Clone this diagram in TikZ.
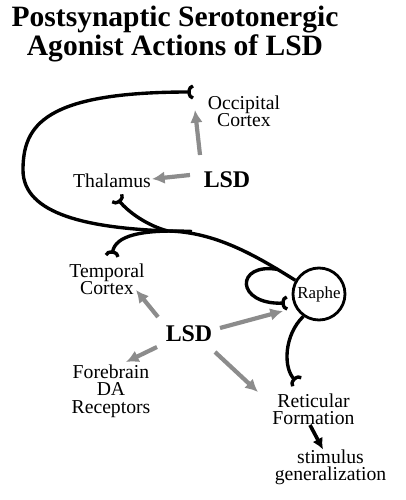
\documentclass[tikz,border=0pt]{standalone}
\usepackage{fontspec}
\setmainfont{Liberation Serif}
\usepackage{tikz}
\usetikzlibrary{arrows.meta,calc,positioning}
\definecolor{agonist}{gray}{0.55}
\tikzset{%
	heading/.style = {font=\fontsize{21}{17}\selectfont\bfseries, align=center, inner sep=0pt},
	region/.style  = {font=\fontsize{14}{12.4}\selectfont, align=center, inner sep=0pt},
	drug/.style    = {font=\fontsize{17}{17}\selectfont\bfseries, inner sep=0pt},
	nucleus/.style = {draw, circle, line width=2pt, minimum size=1.3cm, inner sep=0pt, font=\fontsize{12}{12}\selectfont},
	axon/.style    = {line width=2.4pt, -{Arc Barb[reversed,width=11pt,length=4pt]}},
	action/.style  = {line width=3pt, color=agonist, -{Latex[length=9pt,width=9pt]}},
	effect/.style  = {line width=2.6pt, -{Latex[length=8pt,width=8pt]}},
}
\begin{document}
\begin{tikzpicture}[x=0.025cm,y=-0.025cm]
		\useasboundingbox (0,0) rectangle (406,500);
		\node[heading] (title) at (175,34) {Postsynaptic Serotonergic\\Agonist Actions of LSD};
		\node[region] (occ) at (244,111.5) {Occipital\\Cortex};
		\node[region] (thal) at (112,180.5) {Thalamus};
		\node[drug] (lsda) at (227,180) {LSD};
		\node[region] (temp) at (107,279.5) {Temporal\\Cortex};
		\node[nucleus] (raphe) at (319,294) {Raphe};
		\node[drug] (lsdb) at (189,334) {LSD};
		\node[region] (fore) at (111,391) {Forebrain\\DA\\Receptors};
		\node[region] (ret) at (313.5,409) {Reticular\\Formation};
		\node[region] (stim) at (330.5,467.5) {stimulus\\generalization};
		\coordinate (hub) at (168,231);
		\coordinate (fork) at (192,231.5);
		\coordinate (loopfork) at (278,269.5);
		\coordinate (occsyn) at (193,92);
		\coordinate (thalsyn) at (117,198);
		\coordinate (tempsyn) at (112,256);
		\coordinate (loopsyn) at (287,303);
		\coordinate (retsyn) at (297,382);
		\draw[axon] (raphe.150) .. controls (255,255) and (215,232) .. (hub) .. controls (90,228) and (23,215) .. (23,170) .. controls (23,125) and (45,92) .. (occsyn);
		\draw[axon] (hub) .. controls (148,226) and (128,212) .. (thalsyn);
		\draw[axon] (fork) .. controls (140,229) and (115,236) .. (tempsyn);
		\draw[axon] (loopfork) .. controls (235,262) and (235,305) .. (loopsyn);
		\draw[axon] (raphe.235) .. controls (284,335) and (283,368) .. (retsyn);
		\draw[action] ($(lsda)+(-27,-25)$) -- ($(occ)+(-49,-1.5)$);
		\draw[action] ($(lsda)+(-37,-5)$) -- ($(thal)+(40,-1.5)$);
		\draw[action] ($(lsdb)+(-31,-17)$) -- ($(temp)+(29,10.5)$);
		\draw[action] ($(lsdb)+(31,-6)$) -- ($(raphe)+(-36,17)$);
		\draw[action] ($(lsdb)+(-32,13)$) -- ($(fore)+(15,-29)$);
		\draw[action] ($(lsdb)+(26,18)$) -- ($(ret)+(-55.5,-17)$);
		\draw[effect] ($(ret)+(-3.5,16)$) -- ($(stim)+(-7.5,-18)$);
	\end{tikzpicture}
\end{document}
